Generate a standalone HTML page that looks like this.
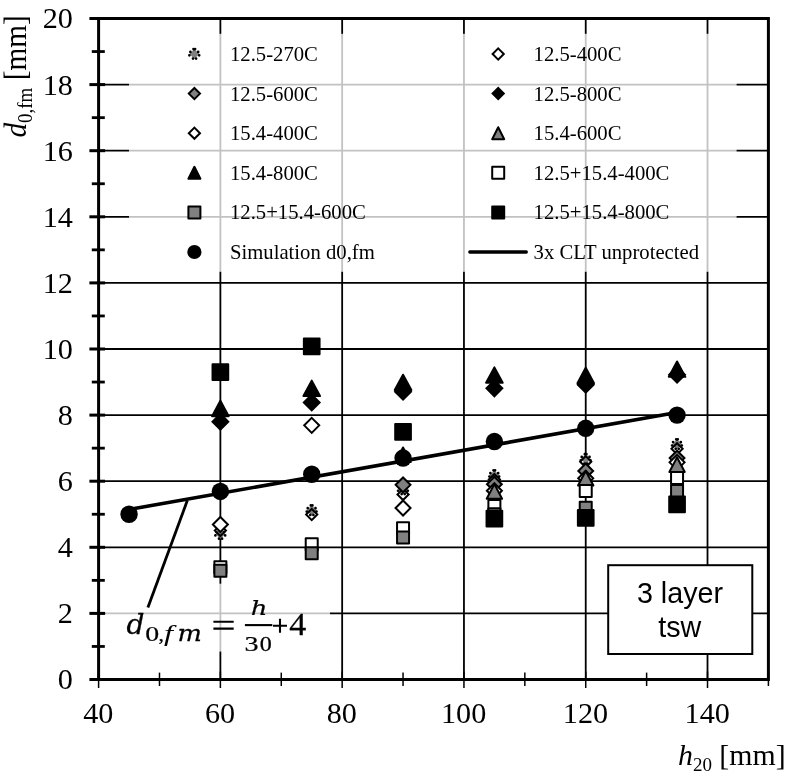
<!DOCTYPE html>
<html lang="en">
<head>
<meta charset="utf-8">
<title>d0,fm vs h20 - 3 layer tsw</title>
<style>
html,body{margin:0;padding:0;background:#fff;}
body{width:785px;height:778px;overflow:hidden;}
svg text{white-space:pre;}
</style>
</head>
<body>
<svg width="785" height="778" viewBox="0 0 785 778" style="display:block">
<rect x="0" y="0" width="785" height="778" fill="#fff"/>
<g stroke="#000" stroke-width="1.8" fill="none">
<line x1="98.6" y1="613.40" x2="768.4" y2="613.40"/>
<line x1="98.6" y1="547.30" x2="768.4" y2="547.30"/>
<line x1="98.6" y1="481.20" x2="768.4" y2="481.20"/>
<line x1="98.6" y1="415.10" x2="768.4" y2="415.10"/>
<line x1="98.6" y1="349.00" x2="768.4" y2="349.00"/>
<line x1="98.6" y1="282.90" x2="768.4" y2="282.90"/>
<line x1="98.6" y1="216.80" x2="768.4" y2="216.80"/>
<line x1="98.6" y1="150.70" x2="768.4" y2="150.70"/>
<line x1="98.6" y1="84.60" x2="768.4" y2="84.60"/>
<line x1="220.38" y1="18.5" x2="220.38" y2="679.5"/>
<line x1="342.16" y1="18.5" x2="342.16" y2="679.5"/>
<line x1="463.95" y1="18.5" x2="463.95" y2="679.5"/>
<line x1="585.73" y1="18.5" x2="585.73" y2="679.5"/>
<line x1="707.51" y1="18.5" x2="707.51" y2="679.5"/>
</g>
<rect x="98.6" y="18.5" width="669.80" height="661.00" fill="none" stroke="#000" stroke-width="3"/>
<g stroke="#000" fill="none">
<line x1="89.4" y1="679.50" x2="105.1" y2="679.50" stroke-width="3"/>
<line x1="91.8" y1="646.45" x2="104.8" y2="646.45" stroke-width="2.8"/>
<line x1="89.4" y1="613.40" x2="105.1" y2="613.40" stroke-width="3"/>
<line x1="91.8" y1="580.35" x2="104.8" y2="580.35" stroke-width="2.8"/>
<line x1="89.4" y1="547.30" x2="105.1" y2="547.30" stroke-width="3"/>
<line x1="91.8" y1="514.25" x2="104.8" y2="514.25" stroke-width="2.8"/>
<line x1="89.4" y1="481.20" x2="105.1" y2="481.20" stroke-width="3"/>
<line x1="91.8" y1="448.15" x2="104.8" y2="448.15" stroke-width="2.8"/>
<line x1="89.4" y1="415.10" x2="105.1" y2="415.10" stroke-width="3"/>
<line x1="91.8" y1="382.05" x2="104.8" y2="382.05" stroke-width="2.8"/>
<line x1="89.4" y1="349.00" x2="105.1" y2="349.00" stroke-width="3"/>
<line x1="91.8" y1="315.95" x2="104.8" y2="315.95" stroke-width="2.8"/>
<line x1="89.4" y1="282.90" x2="105.1" y2="282.90" stroke-width="3"/>
<line x1="91.8" y1="249.85" x2="104.8" y2="249.85" stroke-width="2.8"/>
<line x1="89.4" y1="216.80" x2="105.1" y2="216.80" stroke-width="3"/>
<line x1="91.8" y1="183.75" x2="104.8" y2="183.75" stroke-width="2.8"/>
<line x1="89.4" y1="150.70" x2="105.1" y2="150.70" stroke-width="3"/>
<line x1="91.8" y1="117.65" x2="104.8" y2="117.65" stroke-width="2.8"/>
<line x1="89.4" y1="84.60" x2="105.1" y2="84.60" stroke-width="3"/>
<line x1="91.8" y1="51.55" x2="104.8" y2="51.55" stroke-width="2.8"/>
<line x1="89.4" y1="18.50" x2="105.1" y2="18.50" stroke-width="3"/>
<line x1="98.60" y1="671.5" x2="98.60" y2="688.0" stroke-width="1.5"/>
<line x1="159.49" y1="672.6" x2="159.49" y2="686.0" stroke-width="1.5"/>
<line x1="220.38" y1="671.5" x2="220.38" y2="688.0" stroke-width="1.5"/>
<line x1="281.27" y1="672.6" x2="281.27" y2="686.0" stroke-width="1.5"/>
<line x1="342.16" y1="671.5" x2="342.16" y2="688.0" stroke-width="1.5"/>
<line x1="403.05" y1="672.6" x2="403.05" y2="686.0" stroke-width="1.5"/>
<line x1="463.95" y1="671.5" x2="463.95" y2="688.0" stroke-width="1.5"/>
<line x1="524.84" y1="672.6" x2="524.84" y2="686.0" stroke-width="1.5"/>
<line x1="585.73" y1="671.5" x2="585.73" y2="688.0" stroke-width="1.5"/>
<line x1="646.62" y1="672.6" x2="646.62" y2="686.0" stroke-width="1.5"/>
<line x1="707.51" y1="671.5" x2="707.51" y2="688.0" stroke-width="1.5"/>
<line x1="768.40" y1="672.6" x2="768.40" y2="686.0" stroke-width="1.5"/>
</g>
<g font-family='"Liberation Serif", "DejaVu Serif", serif' font-size="30.2" fill="#000">
<text x="72.9" y="689.40" text-anchor="end">0</text>
<text x="72.9" y="623.30" text-anchor="end">2</text>
<text x="72.9" y="557.20" text-anchor="end">4</text>
<text x="72.9" y="491.10" text-anchor="end">6</text>
<text x="72.9" y="425.00" text-anchor="end">8</text>
<text x="72.9" y="358.90" text-anchor="end">10</text>
<text x="72.9" y="292.80" text-anchor="end">12</text>
<text x="72.9" y="226.70" text-anchor="end">14</text>
<text x="72.9" y="160.60" text-anchor="end">16</text>
<text x="72.9" y="94.50" text-anchor="end">18</text>
<text x="72.9" y="28.40" text-anchor="end">20</text>
<text x="98.30" y="723.3" text-anchor="middle">40</text>
<text x="220.08" y="723.3" text-anchor="middle">60</text>
<text x="341.86" y="723.3" text-anchor="middle">80</text>
<text x="463.65" y="723.3" text-anchor="middle">100</text>
<text x="585.43" y="723.3" text-anchor="middle">120</text>
<text x="707.21" y="723.3" text-anchor="middle">140</text>
</g>
<text transform="translate(25.7,137.6) rotate(-90) scale(1,1.05)" font-family='"Liberation Serif", "DejaVu Serif", serif' font-size="29.3" fill="#000"><tspan font-style="italic">d</tspan><tspan font-size="19" dy="6">0,fm</tspan><tspan dy="-6"> [mm]</tspan></text>
<text x="678.0" y="764.6" font-family='"Liberation Serif", "DejaVu Serif", serif' font-size="29.8" fill="#000"><tspan font-style="italic">h</tspan><tspan font-size="19" dy="6.5">20</tspan><tspan dy="-6.5"> [mm]</tspan></text>
<g>
<path d="M220.38 529.08L225.38 534.08L220.38 539.08L215.38 534.08Z" fill="#808080"/><path d="M219.48 529.18h0M221.08 529.18h0M216.38 531.98h0M224.18 531.98h0M215.38 535.38h0M225.18 535.38h0M218.98 538.68h0M222.08 538.68h0" fill="none" stroke="#000" stroke-width="2.7" stroke-linecap="round"/>
<path d="M311.72 505.28L316.72 510.28L311.72 515.28L306.72 510.28Z" fill="#808080"/><path d="M310.82 505.38h0M312.42 505.38h0M307.72 508.18h0M315.52 508.18h0M306.72 511.58h0M316.52 511.58h0M310.32 514.88h0M313.42 514.88h0" fill="none" stroke="#000" stroke-width="2.7" stroke-linecap="round"/>
<path d="M403.05 484.46L408.05 489.46L403.05 494.46L398.05 489.46Z" fill="#808080"/><path d="M402.15 484.56h0M403.75 484.56h0M399.05 487.36h0M406.85 487.36h0M398.05 490.76h0M407.85 490.76h0M401.65 494.06h0M404.75 494.06h0" fill="none" stroke="#000" stroke-width="2.7" stroke-linecap="round"/>
<path d="M494.39 470.25L499.39 475.25L494.39 480.25L489.39 475.25Z" fill="#808080"/><path d="M493.49 470.35h0M495.09 470.35h0M490.39 473.15h0M498.19 473.15h0M489.39 476.55h0M499.19 476.55h0M492.99 479.85h0M496.09 479.85h0" fill="none" stroke="#000" stroke-width="2.7" stroke-linecap="round"/>
<path d="M585.73 454.06L590.73 459.06L585.73 464.06L580.73 459.06Z" fill="#808080"/><path d="M584.83 454.16h0M586.43 454.16h0M581.73 456.96h0M589.53 456.96h0M580.73 460.36h0M590.53 460.36h0M584.33 463.66h0M587.43 463.66h0" fill="none" stroke="#000" stroke-width="2.7" stroke-linecap="round"/>
<path d="M677.06 439.18L682.06 444.18L677.06 449.18L672.06 444.18Z" fill="#808080"/><path d="M676.16 439.28h0M677.76 439.28h0M673.06 442.08h0M680.86 442.08h0M672.06 445.48h0M681.86 445.48h0M675.66 448.78h0M678.76 448.78h0" fill="none" stroke="#000" stroke-width="2.7" stroke-linecap="round"/>
<path d="M220.38 524.84L225.98 530.44L220.38 536.04L214.78 530.44Z" fill="none" stroke="#000" stroke-width="2" stroke-linejoin="miter" />
<path d="M311.72 508.98L317.32 514.58L311.72 520.18L306.12 514.58Z" fill="none" stroke="#000" stroke-width="2" stroke-linejoin="miter" />
<path d="M403.05 488.82L408.65 494.42L403.05 500.02L397.45 494.42Z" fill="none" stroke="#000" stroke-width="2" stroke-linejoin="miter" />
<path d="M494.39 473.95L499.99 479.55L494.39 485.15L488.79 479.55Z" fill="none" stroke="#000" stroke-width="2" stroke-linejoin="miter" />
<path d="M585.73 456.10L591.33 461.70L585.73 467.30L580.13 461.70Z" fill="none" stroke="#000" stroke-width="2" stroke-linejoin="miter" />
<path d="M677.06 443.21L682.66 448.81L677.06 454.41L671.46 448.81Z" fill="none" stroke="#000" stroke-width="2" stroke-linejoin="miter" />
<path d="M403.05 477.44L410.45 484.84L403.05 492.24L395.65 484.84Z" fill="#808080" stroke="#000" stroke-width="2" stroke-linejoin="miter" />
<path d="M494.39 476.77L501.79 484.17L494.39 491.57L486.99 484.17Z" fill="#808080" stroke="#000" stroke-width="2" stroke-linejoin="miter" />
<path d="M585.73 463.55L593.13 470.95L585.73 478.35L578.33 470.95Z" fill="#808080" stroke="#000" stroke-width="2" stroke-linejoin="miter" />
<path d="M677.06 450.67L684.46 458.06L677.06 465.46L669.66 458.06Z" fill="#808080" stroke="#000" stroke-width="2" stroke-linejoin="miter" />
<path d="M220.38 413.81L228.28 421.71L220.38 429.61L212.48 421.71Z" fill="#000" stroke="#000" stroke-width="2" stroke-linejoin="miter" />
<path d="M311.72 394.64L319.62 402.54L311.72 410.44L303.82 402.54Z" fill="#000" stroke="#000" stroke-width="2" stroke-linejoin="miter" />
<path d="M403.05 383.73L410.95 391.63L403.05 399.53L395.15 391.63Z" fill="#000" stroke="#000" stroke-width="2" stroke-linejoin="miter" />
<path d="M494.39 380.43L502.29 388.33L494.39 396.23L486.49 388.33Z" fill="#000" stroke="#000" stroke-width="2" stroke-linejoin="miter" />
<path d="M585.73 376.79L593.63 384.69L585.73 392.59L577.83 384.69Z" fill="#000" stroke="#000" stroke-width="2" stroke-linejoin="miter" />
<path d="M677.06 366.88L684.96 374.78L677.06 382.68L669.16 374.78Z" fill="#000" stroke="#000" stroke-width="2" stroke-linejoin="miter" />
<path d="M220.38 517.00L227.88 524.50L220.38 532.00L212.88 524.50Z" fill="#fff" stroke="#000" stroke-width="2" stroke-linejoin="miter" />
<path d="M311.72 417.85L319.22 425.35L311.72 432.85L304.22 425.35Z" fill="#fff" stroke="#000" stroke-width="2" stroke-linejoin="miter" />
<path d="M403.05 500.47L410.55 507.97L403.05 515.47L395.55 507.97Z" fill="#fff" stroke="#000" stroke-width="2" stroke-linejoin="miter" />
<path d="M494.39 483.28L501.89 490.78L494.39 498.28L486.89 490.78Z" fill="#fff" stroke="#000" stroke-width="2" stroke-linejoin="miter" />
<path d="M585.73 470.73L593.23 478.23L585.73 485.73L578.23 478.23Z" fill="#fff" stroke="#000" stroke-width="2" stroke-linejoin="miter" />
<path d="M677.06 454.86L684.56 462.36L677.06 469.86L669.56 462.36Z" fill="#fff" stroke="#000" stroke-width="2" stroke-linejoin="miter" />
<path d="M403.05 447.46L410.75 462.06L395.35 462.06Z" fill="#808080" stroke="#000" stroke-width="2" stroke-linejoin="round"/>
<path d="M494.39 484.15L502.09 498.75L486.69 498.75Z" fill="#808080" stroke="#000" stroke-width="2" stroke-linejoin="round"/>
<path d="M585.73 470.93L593.43 485.53L578.03 485.53Z" fill="#808080" stroke="#000" stroke-width="2" stroke-linejoin="round"/>
<path d="M677.06 457.38L684.76 471.98L669.36 471.98Z" fill="#808080" stroke="#000" stroke-width="2" stroke-linejoin="round"/>
<path d="M220.38 400.79L228.68 416.19L212.08 416.19Z" fill="#000" stroke="#000" stroke-width="2" stroke-linejoin="round"/>
<path d="M311.72 380.63L320.02 396.03L303.42 396.03Z" fill="#000" stroke="#000" stroke-width="2" stroke-linejoin="round"/>
<path d="M403.05 374.68L411.35 390.08L394.75 390.08Z" fill="#000" stroke="#000" stroke-width="2" stroke-linejoin="round"/>
<path d="M494.39 367.41L502.69 382.81L486.09 382.81Z" fill="#000" stroke="#000" stroke-width="2" stroke-linejoin="round"/>
<path d="M585.73 367.74L594.03 383.14L577.43 383.14Z" fill="#000" stroke="#000" stroke-width="2" stroke-linejoin="round"/>
<path d="M677.06 361.46L685.36 376.86L668.76 376.86Z" fill="#000" stroke="#000" stroke-width="2" stroke-linejoin="round"/>
<rect x="214.38" y="561.13" width="12" height="12" fill="#fff" stroke="#000" stroke-width="2" stroke-linejoin="round"/>
<rect x="305.72" y="538.33" width="12" height="12" fill="#fff" stroke="#000" stroke-width="2" stroke-linejoin="round"/>
<rect x="397.05" y="522.13" width="12" height="12" fill="#fff" stroke="#000" stroke-width="2" stroke-linejoin="round"/>
<rect x="488.39" y="499.99" width="12" height="12" fill="#fff" stroke="#000" stroke-width="2" stroke-linejoin="round"/>
<rect x="579.73" y="485.12" width="12" height="12" fill="#fff" stroke="#000" stroke-width="2" stroke-linejoin="round"/>
<rect x="671.06" y="471.89" width="12" height="12" fill="#fff" stroke="#000" stroke-width="2" stroke-linejoin="round"/>
<rect x="214.38" y="564.77" width="12" height="12" fill="#808080" stroke="#000" stroke-width="2" stroke-linejoin="round"/>
<rect x="305.72" y="547.25" width="12" height="12" fill="#808080" stroke="#000" stroke-width="2" stroke-linejoin="round"/>
<rect x="397.05" y="531.38" width="12" height="12" fill="#808080" stroke="#000" stroke-width="2" stroke-linejoin="round"/>
<rect x="488.39" y="508.25" width="12" height="12" fill="#808080" stroke="#000" stroke-width="2" stroke-linejoin="round"/>
<rect x="579.73" y="501.64" width="12" height="12" fill="#808080" stroke="#000" stroke-width="2" stroke-linejoin="round"/>
<rect x="671.06" y="485.12" width="12" height="12" fill="#808080" stroke="#000" stroke-width="2" stroke-linejoin="round"/>
<rect x="212.53" y="364.28" width="15.7" height="15.7" fill="#000" stroke="#000" stroke-width="2" stroke-linejoin="round"/>
<rect x="303.87" y="338.51" width="15.7" height="15.7" fill="#000" stroke="#000" stroke-width="2" stroke-linejoin="round"/>
<rect x="395.20" y="424.11" width="15.7" height="15.7" fill="#000" stroke="#000" stroke-width="2" stroke-linejoin="round"/>
<rect x="486.54" y="510.70" width="15.7" height="15.7" fill="#000" stroke="#000" stroke-width="2" stroke-linejoin="round"/>
<rect x="577.88" y="510.04" width="15.7" height="15.7" fill="#000" stroke="#000" stroke-width="2" stroke-linejoin="round"/>
<rect x="669.21" y="496.49" width="15.7" height="15.7" fill="#000" stroke="#000" stroke-width="2" stroke-linejoin="round"/>
<line x1="128.7" y1="509.5" x2="676.8" y2="412.6" stroke="#000" stroke-width="3.6" stroke-linecap="round"/>
<circle cx="129.05" cy="514.25" r="8.7" fill="#000"/>
<circle cx="220.38" cy="491.45" r="8.7" fill="#000"/>
<circle cx="311.72" cy="474.26" r="8.7" fill="#000"/>
<circle cx="403.05" cy="458.06" r="8.7" fill="#000"/>
<circle cx="494.39" cy="441.54" r="8.7" fill="#000"/>
<circle cx="585.73" cy="428.32" r="8.7" fill="#000"/>
<circle cx="677.06" cy="415.10" r="8.7" fill="#000"/>
</g>
<rect x="129" y="33.8" width="607.6" height="238" fill="#fff" fill-opacity="0.76"/>
<g font-family='"Liberation Serif", "DejaVu Serif", serif' font-size="20.7" fill="#000">
<path d="M194.40 49.00L199.40 54.00L194.40 59.00L189.40 54.00Z" fill="#808080"/><path d="M193.50 49.10h0M195.10 49.10h0M190.40 51.90h0M198.20 51.90h0M189.40 55.30h0M199.20 55.30h0M193.00 58.60h0M196.10 58.60h0" fill="none" stroke="#000" stroke-width="2.7" stroke-linecap="round"/>
<text x="230.0" y="60.90">12.5-270C</text>
<path d="M194.40 88.00L200.00 93.60L194.40 99.20L188.80 93.60Z" fill="#808080" stroke="#000" stroke-width="2" stroke-linejoin="miter" />
<text x="230.0" y="100.50">12.5-600C</text>
<path d="M194.40 127.60L200.00 133.20L194.40 138.80L188.80 133.20Z" fill="#fff" stroke="#000" stroke-width="2" stroke-linejoin="miter" />
<text x="230.0" y="140.10">15.4-400C</text>
<path d="M194.40 166.80L200.40 178.80L188.40 178.80Z" fill="#000" stroke="#000" stroke-width="2" stroke-linejoin="round"/>
<text x="230.0" y="179.70">15.4-800C</text>
<rect x="188.40" y="206.40" width="12" height="12" fill="#808080" stroke="#000" stroke-width="2" stroke-linejoin="round"/>
<text x="230.0" y="219.30">12.5+15.4-600C</text>
<circle cx="194.40" cy="252.00" r="7.1" fill="#000"/>
<text x="230.0" y="258.90">Simulation d0,fm</text>
<path d="M498.20 48.40L503.80 54.00L498.20 59.60L492.60 54.00Z" fill="none" stroke="#000" stroke-width="2" stroke-linejoin="miter" />
<text x="533.6" y="60.90">12.5-400C</text>
<path d="M498.20 88.00L503.80 93.60L498.20 99.20L492.60 93.60Z" fill="#000" stroke="#000" stroke-width="2" stroke-linejoin="miter" />
<text x="533.6" y="100.50">12.5-800C</text>
<path d="M498.20 127.20L504.20 139.20L492.20 139.20Z" fill="#808080" stroke="#000" stroke-width="2" stroke-linejoin="round"/>
<text x="533.6" y="140.10">15.4-600C</text>
<rect x="492.20" y="166.80" width="12" height="12" fill="#fff" stroke="#000" stroke-width="2" stroke-linejoin="round"/>
<text x="533.6" y="179.70">12.5+15.4-400C</text>
<rect x="492.20" y="206.40" width="12" height="12" fill="#000" stroke="#000" stroke-width="2" stroke-linejoin="round"/>
<text x="533.6" y="219.30">12.5+15.4-800C</text>
<line x1="469.8" y1="252.0" x2="526.3" y2="252.0" stroke="#000" stroke-width="3.3" stroke-linecap="round"/>
<text x="533.6" y="258.90">3x CLT unprotected</text>
</g>
<rect x="105.2" y="583.7" width="224.8" height="67.9" fill="#fff" fill-opacity="0.76"/>
<line x1="187.3" y1="500.6" x2="147.9" y2="607.6" stroke="#000" stroke-width="2.8"/>
<g font-family='"Liberation Serif", "DejaVu Serif", serif' fill="#000" stroke="#000" stroke-width="0.0" stroke-linejoin="round">
<text transform="translate(126.60,634.14) scale(0.979,1)" font-size="28.68" stroke-width="0.31" font-style="italic" font-family='"DejaVu Serif", "Liberation Serif", serif'>d</text>
<text transform="translate(145.19,641.24) scale(1.296,1)" font-size="21.49" stroke-width="0.23">0</text>
<text transform="translate(158.53,641.12) scale(1.126,1)" font-size="19.08" stroke-width="0.27">,</text>
<text transform="translate(164.11,641.12) scale(1.412,1)" font-size="22.90" stroke-width="0.00" font-style="italic">f</text>
<text transform="translate(177.54,640.75) scale(1.162,1)" font-size="22.13" stroke-width="0.26" font-style="italic" font-family='"DejaVu Serif", "Liberation Serif", serif'>m</text>
<text transform="translate(250.79,615.35) scale(1.326,1)" font-size="19.61" stroke-width="0.23" font-style="italic" font-family='"DejaVu Serif", "Liberation Serif", serif'>h</text>
<text transform="translate(244.41,650.74) scale(1.301,1)" font-size="21.58" stroke-width="0.23">3</text>
<text transform="translate(259.63,650.74) scale(1.120,1)" font-size="21.49" stroke-width="0.27">0</text>
<text transform="translate(289.29,634.55) scale(1.055,1)" font-size="32.21" stroke-width="0.28">4</text>
</g>
<g stroke="#000" stroke-width="2.1" fill="none">
<path d="M213.4 621.7H233.7M213.4 628.6H233.7"/>
<path d="M244.9 625.1H272.3"/>
<path d="M273 625.8H287M280 618.8V632.8"/>
</g>
<rect x="608.2" y="565.2" width="144.1" height="88.8" fill="#fff" stroke="#000" stroke-width="2"/>
<g font-family='"Liberation Sans", "DejaVu Sans", sans-serif' font-size="28.7" fill="#000" text-anchor="middle">
<text x="680" y="602.7">3 layer</text>
<text x="679.8" y="637.1">tsw</text>
</g>
</svg>
</body>
</html>
